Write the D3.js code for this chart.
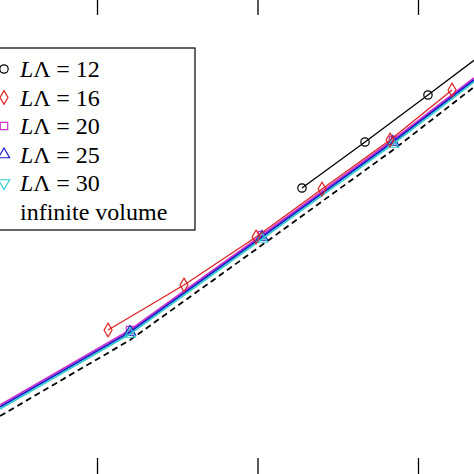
<!DOCTYPE html>
<html><head><meta charset="utf-8">
<script src="https://cdn.jsdelivr.net/npm/d3@7"></script>
<style>body{margin:0;background:#fff}</style>
</head><body>
<svg id="chart" width="474" height="474"></svg>
<script>
// x ticks at 1,2,3 ; curves
const xTicks = [1, 2, 3];
const x12 = [2.277, 2.670, 3.062, 3.46];
const y12 = [2.86, 3.32, 3.79, 4.27];
const x16 = [1.069, 1.542, 1.991, 2.402, 2.826, 3.212];
const y16 = [1.44, 1.89, 2.37, 2.85, 3.34, 3.84];
const xBig = [0.396, 1.206, 2.028, 2.844, 3.349];
const y20 = [0.69, 1.44, 2.39, 3.34, 3.96];
const y25 = [0.67, 1.42, 2.37, 3.32, 3.94];
const y30 = [0.65, 1.40, 2.35, 3.30, 3.92];
const mark20 = [1, 2, 3];
const xInf = [0.396, 1.206, 2.028, 2.844, 3.349];
const yInf = [0.58, 1.34, 2.29, 3.24, 3.87];

const svg = d3.select("#chart");
const x = d3.scaleLinear().domain([1, 3]).range([97, 418]);
const y = d3.scaleLinear().domain([0, 4.74]).range([474, 0]);
const line = d3.line().x(d => x(d[0])).y(d => y(d[1]));

svg.append("g").attr("transform", "translate(0,0)")
  .call(d3.axisTop(x).tickValues(xTicks).tickSize(-15).tickFormat(""))
  .call(g => g.select(".domain").remove())
  .selectAll("line").attr("stroke", "#000").attr("stroke-width", 1.3);
svg.append("g").attr("transform", "translate(0,474)")
  .call(d3.axisBottom(x).tickValues(xTicks).tickSize(-16).tickFormat(""))
  .call(g => g.select(".domain").remove())
  .selectAll("line").attr("stroke", "#000").attr("stroke-width", 1.3);

function series(xs, ys, color, shape, idx, w) {
  const pts = xs.map((v, i) => [v, ys[i]]);
  svg.append("path").attr("d", line(pts)).attr("fill", "none")
    .attr("stroke", color).attr("stroke-width", w || 1.4);
  const sym = d3.symbol().type(shape).size(55);
  const mp = idx ? idx.map(i => pts[i]) : pts;
  svg.selectAll(null).data(mp).enter().append("path")
    .attr("d", sym).attr("fill", "none").attr("stroke", color).attr("stroke-width", 1.2)
    .attr("transform", d => `translate(${x(d[0])},${y(d[1])})` + (shape === "tri-down" ? "" : ""));
}
series(xInf, yInf, "#000", null, [], 1.8);
svg.select("path:last-of-type");
svg.selectAll("path").filter((d, i, n) => i === n.length - 1).attr("stroke-dasharray", "6,4");
series(xBig, y20, "#cc33cc", d3.symbolSquare, mark20, 2);
series(xBig, y25, "#1a1acc", d3.symbolTriangle, mark20, 2);
series(xBig, y30, "#33cccc", d3.symbolTriangle, mark20, 1.6);
series(x16, y16, "#dd2222", d3.symbolDiamond, null, 1.3);
series(x12, y12, "#000", d3.symbolCircle, null, 1.3);

// legend
const leg = svg.append("g");
leg.append("rect").attr("x", -2).attr("y", 48).attr("width", 197).attr("height", 182)
  .attr("fill", "#fff").attr("stroke", "#000").attr("stroke-width", 1.2);
const labels = ["12", "16", "20", "25", "30"];
const cols = ["#000", "#dd2222", "#cc33cc", "#1a1acc", "#33cccc"];
const shapes = [d3.symbolCircle, d3.symbolDiamond, d3.symbolSquare, d3.symbolTriangle, d3.symbolTriangle];
labels.forEach((l, i) => {
  const yy = 69 + i * 28.5;
  leg.append("path").attr("d", d3.symbol().type(shapes[i]).size(55)())
    .attr("transform", `translate(4,${yy})` + (i === 4 ? " rotate(180)" : ""))
    .attr("fill", "none").attr("stroke", cols[i]).attr("stroke-width", 1.2);
  const t = leg.append("text").attr("x", 20).attr("y", yy + 8)
    .attr("font-family", "Liberation Serif").attr("font-size", 24);
  t.append("tspan").attr("font-style", "italic").text("L");
  t.append("tspan").text("Λ = " + l);
});
leg.append("text").attr("x", 20).attr("y", 220).attr("font-family", "Liberation Serif")
  .attr("font-size", 24).text("infinite volume");
</script>
</body></html>
